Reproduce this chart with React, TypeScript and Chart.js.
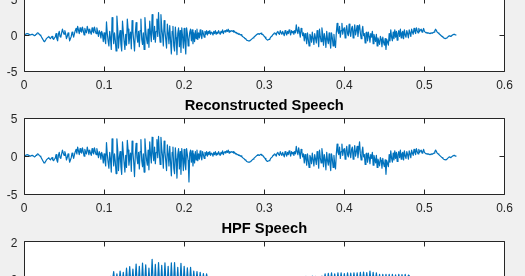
import React, { useEffect, useRef } from 'react';
import { Chart, registerables } from 'chart.js';

Chart.register(...registerables);

// ---------- data ----------
const speechSampleStep = 0.001; // seconds between speech samples
const hpfSampleStep = 0.002; // seconds between HPF samples

const xTicks = [0, 0.1, 0.2, 0.3, 0.4, 0.5, 0.6];
const xTickLabels = ['0', '0.1', '0.2', '0.3', '0.4', '0.5', '0.6'];

const speechYTicks = [-5, 0, 5];
const speechYTickLabels = ['-5', '0', '5'];

const hpfYTicks = [-2, 0, 2];
const hpfYTickLabels = ['-2', '0', '2'];

const originalSpeech = [
  0, 0.05, 0.1, 0.15, 0.2, 0.15, 0.1, 0.05, 0, 0.05,
  0.1, 0.05, 0, -0.1, -0.05, 0.1, 0.2, 0.3, 0.25, 0.1,
  0, -0.1, -0.3, -0.5, -0.7, -0.9, -0.85, -0.7, -0.5, -0.4,
  -0.3, -0.2, -0.4, -0.5, -0.3, -0.2, -0.5, -0.6, -0.4, -0.3,
  0.2, -0.5, -0.8, 0.1, 0.5, -0.2, -0.3, 0.3, 0.8, 0.4,
  0.1, 0.6, 0.2, -0.5, -0.2, 0.3, -0.1, -0.8, -0.5, -0.2,
  0.4, 0.1, -0.3, 0.2, 0.6, 0.9, 0.3, 1.2, 0.7, 0.2,
  1.0, 0.5, 0.4, 1.1, 0.6, 0.0, 0.9, 0.5, 0.3, 1.2,
  0.7, 0.2, 0.8, 0.4, 0.1, 1.0, 0.5, 0.3, 1.1, 0.6,
  0.2, 1.0, 0.4, -0.2, 0.6, 0.3, -0.4, 0.5, 0.1, -0.9,
  0.3, -0.6, -1.2, 1.8, 0.2, -0.8, -1.5, 0.5, -0.4, -2.0,
  2.4, 0.6, -1.2, 0.3, -0.7, -2.2, 2.6, 0.9, -1.8, -0.2,
  0.6, -1.3, -2.2, 1.9, 0.4, -0.9, -2.0, 0.1, -1.4, 2.2,
  0.8, -1.2, -0.3, 0.4, -1.9, 2.0, 0.5, -0.8, -2.2, 0.2,
  1.7, -0.2, -1.0, 0.5, -1.6, 0.6, 2.2, -0.6, -1.3, 0.3,
  -2.0, 2.4, 0.7, -0.5, -1.2, 0.8, -1.7, 1.9, 0.2, -0.9,
  2.8, 0.4, -0.6, 1.2, -1.0, 0.5, 2.2, -0.2, 3.1, 0.4,
  -1.0, 2.8, 1.0, 0.0, -1.5, 2.0, 0.6, -0.6, -1.8, 1.5,
  0.3, -1.2, 1.3, -0.8, -2.6, 0.5, 1.2, -1.5, -2.2, 1.1,
  -0.4, -2.7, 0.2, 1.0, -1.6, 0.6, -2.4, 1.0, -0.2, -1.8,
  0.9, -1.0, -2.6, 1.0, 0.2, -1.5, -0.6, 0.4, 0.8, -0.8,
  0.7, -1.2, 0.3, -0.9, 0.6, -0.5, 0.8, -0.6, 0.3, -0.4,
  0.7, 0.0, -0.5, 0.6, 0.2, -0.3, 0.5, 0.1, 0.6, 0.0,
  0.5, 0.2, 0.6, 0.1, 0.4, 0.3, 0.0, 0.5, 0.2, 0.6,
  0.1, 0.4, 0.2, 0.6, 0.3, 0.1, 0.5, 0.3, 0.7, 0.2,
  0.5, 0.6, 0.4, 0.7, 0.5, 0.8, 0.4, 0.6, 0.5, 0.6,
  0.5, 0.6, 0.4, 0.5, 0.3, 0.35, 0.2, 0.25, 0.1, 0.15,
  0.0, 0.05, -0.1, -0.2, -0.3, -0.35, -0.5, -0.55, -0.7, -0.75,
  -0.8, -0.8, -0.75, -0.7, -0.6, -0.5, -0.4, -0.3, -0.2, -0.1,
  0.0, 0.1, 0.2, 0.15, 0.1, 0.2, 0.25, 0.1, 0.05, 0.0,
  -0.2, -0.3, -0.5, -0.6, -0.7, -0.65, -0.6, -0.5, -0.3, -0.2,
  -0.1, 0.1, 0.2, 0.3, 0.2, 0.0, 0.4, 0.5, 0.2, 0.1,
  0.6, 0.3, 0.1, 0.5, 0.2, -0.1, 0.6, 0.3, 0.0, 0.5,
  0.2, 0.7, 0.4, 0.0, 0.6, 0.3, 0.5, 0.1, 0.6, 0.3,
  1.4, 0.6, 0.2, 1.1, 0.4, -0.3, 0.9, 0.6, -0.1, 0.3,
  -0.8, 0.2, -0.4, -1.2, 0.3, -0.6, -1.5, 0.1, -0.2, -1.0,
  0.4, -0.5, -1.3, 0.2, -0.4, -1.1, 0.6, -0.3, -1.6, 0.8,
  -0.2, -0.9, 1.0, 0.1, -1.4, 0.2, -0.5, -1.7, 0.5, -0.6,
  -1.2, 0.3, -0.9, -1.8, 0.3, -0.4, -1.5, 0.1, -1.0, -1.7,
  0.3, 1.6, 0.5, 0.2, 1.2, -0.3, 0.6, 1.6, 0.1, 0.8,
  1.0, -0.4, 0.7, 1.3, 0.2, -0.1, 1.5, 0.4, -0.2, 0.9,
  1.2, -0.4, 0.5, 1.4, 0.0, 0.6, 1.3, -0.2, 0.8, 1.4,
  0.3, -0.5, 0.5, 1.2, -0.1, 0.2, -1.1, 0.3, 0.4, -0.8,
  0.4, -0.2, -1.0, 0.2, -0.3, 0.5, -1.2, 0.1, -0.4, -0.9,
  0.1, -1.5, -0.4, -0.8, -1.3, -0.2, -0.6, -1.6, -0.3, -1.0,
  -1.4, -0.5, -2.0, -0.6, -1.0, -1.4, 0.2, -0.8, 0.7, -0.3,
  -0.8, 0.4, -0.5, 0.7, -0.3, 0.5, -0.7, 0.2, 0.6, -0.2,
  0.8, -0.4, 0.3, 0.5, -0.5, 0.7, 0.0, -0.3, 0.6, 0.2,
  -0.4, 0.7, 0.3, -0.2, 0.8, 0.4, 0.1, 0.9, 0.5, 0.2,
  1.0, 0.6, 0.3, 0.9, 0.5, 0.7, 0.8, 0.4, 0.6, 0.9,
  0.5, 0.4, 0.3, 0.35, 0.25, 0.3, 0.2, 0.25, 0.2, 0.3,
  0.25, 0.35, 0.4, 0.6, 0.8, 0.6, 0.4, 0.3, 0.2, 0.1,
  0.0, -0.1, -0.2, -0.3, -0.4, -0.45, -0.5, -0.45, -0.4, -0.3,
  -0.2, -0.1, -0.15, -0.2, -0.1, 0.0, 0.05, 0.1, 0.05, 0.0,
  0.0,
];

const reconstructedSpeech = [
  0, 0.05, 0.1, 0.15, 0.2, 0.15, 0.1, 0.05, 0, 0.05,
  0.1, 0.05, 0, -0.1, -0.05, 0.1, 0.2, 0.3, 0.25, 0.1,
  0, -0.1, -0.3, -0.5, -0.7, -0.9, -0.85, -0.7, -0.5, -0.4,
  -0.3, -0.2, -0.4, -0.5, -0.3, -0.2, -0.5, -0.6, -0.4, -0.3,
  0.2, -0.5, -0.8, 0.1, 0.5, -0.2, -0.3, 0.3, 0.8, 0.4,
  0.1, 0.6, 0.2, -0.5, -0.2, 0.3, -0.1, -0.8, -0.5, -0.2,
  0.4, 0.1, -0.3, 0.2, 0.6, 0.9, 0.3, 1.2, 0.7, 0.2,
  1.0, 0.5, 0.4, 1.1, 0.6, 0.0, 0.9, 0.5, 0.3, 1.2,
  0.7, 0.2, 0.8, 0.4, 0.1, 1.0, 0.5, 0.3, 1.1, 0.6,
  0.2, 1.0, 0.4, -0.2, 0.6, 0.3, -0.4, 0.5, 0.1, -0.9,
  0.3, -0.6, -1.3, 1.8, 0.2, -0.8, -1.6, 0.5, -0.4, -2.1,
  2.3, 0.6, -1.3, 0.3, -0.7, -2.3, 2.3, 0.9, -1.9, -0.2,
  0.6, -1.4, -2.4, 1.9, 0.4, -0.9, -2.1, 0.1, -1.5, 2.1,
  0.8, -1.2, -0.3, 0.4, -2.0, 2.0, 0.5, -0.8, -2.7, 0.2,
  1.7, -0.2, -1.0, 0.5, -1.7, 0.6, 2.2, -0.6, -1.4, 0.3,
  -2.1, 2.3, 0.7, -0.5, -1.2, 0.8, -1.8, 1.9, 0.2, -0.9,
  2.5, 0.4, -0.6, 1.2, -1.0, 0.5, 2.2, -0.2, 2.6, 0.4,
  -1.1, 2.5, 1.0, 0.0, -1.6, 2.0, 0.6, -0.6, -1.9, 1.5,
  0.3, -1.3, 1.3, -0.8, -2.6, 0.5, 1.2, -1.6, -2.3, 1.1,
  -0.4, -2.9, 0.2, 1.0, -1.7, 0.6, -2.4, 1.0, -0.2, -1.9,
  0.9, -1.0, -1.8, 1.0, 0.2, -0.6, -3.4, 0.4, 0.8, -0.8,
  0.7, -1.3, 0.3, -0.9, 0.6, -0.5, 0.8, -0.6, 0.3, -0.4,
  0.7, 0.0, -0.5, 0.6, 0.2, -0.3, 0.5, 0.1, 0.6, 0.0,
  0.5, 0.2, 0.6, 0.1, 0.4, 0.3, 0.0, 0.5, 0.2, 0.6,
  0.1, 0.4, 0.2, 0.6, 0.3, 0.1, 0.5, 0.3, 0.7, 0.2,
  0.5, 0.6, 0.4, 0.7, 0.5, 0.8, 0.4, 0.6, 0.5, 0.6,
  0.5, 0.6, 0.4, 0.5, 0.3, 0.35, 0.2, 0.25, 0.1, 0.15,
  0.0, 0.05, -0.1, -0.2, -0.3, -0.35, -0.5, -0.55, -0.7, -0.75,
  -0.8, -0.8, -0.75, -0.7, -0.6, -0.5, -0.4, -0.3, -0.2, -0.1,
  0.0, 0.1, 0.2, 0.15, 0.1, 0.2, 0.25, 0.1, 0.05, 0.0,
  -0.2, -0.3, -0.5, -0.6, -0.7, -0.65, -0.6, -0.5, -0.3, -0.2,
  -0.1, 0.1, 0.2, 0.3, 0.2, 0.0, 0.4, 0.5, 0.2, 0.1,
  0.6, 0.3, 0.1, 0.5, 0.2, -0.1, 0.6, 0.3, 0.0, 0.5,
  0.2, 0.7, 0.4, 0.0, 0.6, 0.3, 0.5, 0.1, 0.6, 0.3,
  1.3, 0.6, 0.2, 1.1, 0.4, -0.3, 0.9, 0.6, -0.1, 0.3,
  -0.9, 0.2, -0.4, -1.2, 0.3, -0.6, -1.5, 0.1, -0.2, -1.0,
  0.4, -0.5, -1.3, 0.2, -0.4, -1.1, 0.6, -0.3, -1.6, 0.8,
  -0.2, -0.9, 1.0, 0.1, -1.4, 0.2, -0.5, -1.8, 0.5, -0.6,
  -1.2, 0.3, -0.9, -1.9, 0.3, -0.4, -1.5, 0.1, -1.0, -1.7,
  0.3, 1.6, 0.5, 0.2, 1.2, -0.3, 0.6, 1.6, 0.1, 0.8,
  1.0, -0.4, 0.7, 1.3, 0.2, -0.1, 1.5, 0.4, -0.2, 0.9,
  1.2, -0.4, 0.5, 1.4, 0.0, 0.6, 1.3, -0.2, 0.8, 1.9,
  0.3, -0.5, 0.5, 1.2, -0.1, 0.2, -1.1, 0.3, 0.4, -0.8,
  0.4, -0.2, -1.0, 0.2, -0.3, 0.5, -1.2, 0.1, -0.4, -0.9,
  0.1, -1.5, -0.4, -0.8, -1.3, -0.2, -0.6, -1.6, -0.3, -1.0,
  -1.4, -0.5, -2.4, -0.6, -1.0, -1.4, 0.2, -0.8, 0.7, -0.3,
  -0.8, 0.4, -0.5, 0.7, -0.3, 0.5, -0.7, 0.2, 0.6, -0.2,
  0.8, -0.4, 0.3, 0.5, -0.5, 0.7, 0.0, -0.3, 0.6, 0.2,
  -0.4, 0.7, 0.3, -0.2, 0.8, 0.4, 0.1, 0.9, 0.5, 0.2,
  1.0, 0.6, 0.3, 0.9, 0.5, 0.7, 0.8, 0.4, 0.6, 0.9,
  0.5, 0.4, 0.3, 0.35, 0.25, 0.3, 0.2, 0.25, 0.2, 0.3,
  0.25, 0.35, 0.4, 0.6, 0.8, 0.6, 0.4, 0.3, 0.2, 0.1,
  0.0, -0.1, -0.2, -0.3, -0.4, -0.45, -0.5, -0.45, -0.4, -0.3,
  -0.2, -0.1, -0.15, -0.2, -0.1, 0.0, 0.05, 0.1, 0.05, 0.0,
  0.0,
];

const hpfSpeech = [
  0.02, -0.03, 0.04, -0.02, 0.03, -0.04, 0.02, -0.03, 0.05, -0.04,
  0.03, -0.05, 0.06, -0.04, 0.05, -0.06, 0.04, -0.05, 0.07, -0.06,
  0.08, -0.07, 0.09, -0.1, 0.08, -0.09, 0.1, -0.08, 0.11, -0.1,
  0.1, -0.12, 0.12, -0.1, 0.13, -0.12, 0.1, -0.13, 0.12, -0.11,
  0.14, -0.12, 0.13, -0.15, 0.12, -0.14, 0.15, -0.13, 0.14, -0.16,
  0.15, -0.17, 0.16, -0.18, 0.17, -0.2,
  0.42, -0.5, 0.3, -0.45, 0.45, -0.4, 0.38, -0.55, 0.6, -0.5,
  0.69, -0.6, 0.55, -0.7, 0.82, -0.75, 0.7, -0.8, 0.87, -0.72,
  0.78, -0.85, 0.6, -0.8, 1.07, -0.9, 0.8, -0.95, 0.9, -0.8,
  0.75, -0.9, 0.88, -0.85, 0.7, -0.9, 0.88, -0.8, 0.9, -0.85,
  0.65, -0.9, 0.86, -0.75, 0.7, -0.7, 0.62, -0.6, 0.65, -0.55,
  0.45, -0.5, 0.42, -0.45, 0.38, -0.4, 0.32, -0.35, 0.3,
  -0.18, 0.16, -0.14, 0.12, -0.1, 0.08, -0.06, 0.05, -0.04, 0.03,
  -0.03, 0.02, -0.02, 0.03, -0.02, 0.02, -0.03, 0.02, -0.02, 0.01,
  -0.01, 0.02, -0.01, 0.01, -0.02, 0.01, -0.01, 0.02, -0.01, 0.01,
  -0.02, 0.02, -0.01, 0.03, -0.02, 0.03, -0.04, 0.05, -0.04, 0.06,
  -0.05, 0.07, -0.06, 0.08, -0.07, 0.09, -0.08, 0.1, -0.09, 0.12,
  -0.1, 0.13, -0.12, 0.14, -0.13, 0.15, -0.12, 0.16, -0.14, 0.15,
  -0.16, 0.17, -0.15, 0.16, -0.17, 0.18, -0.16, 0.17, -0.18, 0.16,
  -0.17, 0.18, -0.19,
  0.3, -0.35, 0.33, -0.3, 0.36, -0.32, 0.3, -0.36, 0.35, -0.3,
  0.36, -0.34, 0.32, -0.35, 0.36, -0.3, 0.34, -0.36, 0.35, -0.32,
  0.36, -0.35, 0.38, -0.33, 0.4, -0.36, 0.37, -0.38, 0.45,
  -0.4, 0.38, -0.35, 0.36,
  -0.3, 0.28, -0.3, 0.27, -0.28, 0.28, -0.26, 0.27, -0.25, 0.28,
  -0.26, 0.25, -0.27, 0.28, -0.24, 0.26, -0.25, 0.27, -0.22, 0.24,
  0.15, -0.13, 0.12, -0.1, 0.09, -0.08, 0.07, -0.06, 0.06, -0.05,
  0.05, -0.04, 0.04, -0.03, 0.03, -0.03, 0.02, -0.02, 0.02, -0.02,
  0.02, -0.01, 0.01, -0.01, 0.01, -0.01, 0.01, 0, 0, 0,
];

// ---------- styling ----------
const LINE_COLOR = '#0072BD';
const AXIS_COLOR = '#262626';
const FONT_FAMILY = '"Liberation Sans", Arial, Helvetica, sans-serif';
const TICK_LEN = 5;

const matlabAxesPlugin = {
  id: 'matlabAxes',
  beforeDraw(chart: any) {
    const { ctx, chartArea } = chart;
    ctx.save();
    ctx.fillStyle = '#ffffff';
    ctx.fillRect(chartArea.left, chartArea.top, chartArea.right - chartArea.left, chartArea.bottom - chartArea.top);
    ctx.restore();
  },
  afterDraw(chart: any) {
    const { ctx, chartArea, scales } = chart;
    const L = Math.floor(chartArea.left) + 0.5;
    const R = Math.floor(chartArea.right) + 0.5;
    const T = Math.floor(chartArea.top) + 0.5;
    const B = Math.floor(chartArea.bottom) + 0.5;
    ctx.save();
    ctx.strokeStyle = AXIS_COLOR;
    ctx.lineWidth = 1;
    ctx.beginPath();
    ctx.rect(L, T, R - L, B - T);
    ctx.stroke();
    ctx.beginPath();
    for (const t of scales.x.ticks) {
      const px = Math.floor(scales.x.getPixelForValue(t.value)) + 0.5;
      ctx.moveTo(px, B);
      ctx.lineTo(px, B - TICK_LEN);
      ctx.moveTo(px, T);
      ctx.lineTo(px, T + TICK_LEN);
    }
    for (const t of scales.y.ticks) {
      const py = Math.floor(scales.y.getPixelForValue(t.value)) + 0.5;
      ctx.moveTo(L, py);
      ctx.lineTo(L + TICK_LEN, py);
      ctx.moveTo(R, py);
      ctx.lineTo(R - TICK_LEN, py);
    }
    ctx.stroke();
    ctx.restore();
  },
};

type PanelProps = {
  values: number[];
  step: number;
  yTicks: number[];
  yTickLabels: string[];
  title?: string;
  top: number;
  height: number;
  padTop: number;
  titlePadTop?: number;
  titlePadBottom?: number;
};

function Panel(props: PanelProps) {
  const ref = useRef<HTMLCanvasElement | null>(null);
  useEffect(() => {
    if (!ref.current) return;
    const { values, step, yTicks, yTickLabels, title, height, padTop, titlePadTop, titlePadBottom } = props;
    const points = values.map((v, i) => ({ x: i * step, y: v }));
    const plotHeight = 75.7;
    const titleHeight = title ? 14.7 * 1.2 + (titlePadTop || 0) + (titlePadBottom || 0) : 0;
    const xAxisHeight = height - padTop - titleHeight - plotHeight;
    const chart = new Chart(ref.current, {
      type: 'line',
      data: {
        datasets: [
          {
            data: points,
            borderColor: LINE_COLOR,
            borderWidth: 1.2,
            borderJoinStyle: 'round',
            pointRadius: 0,
            fill: false,
            tension: 0,
          },
        ],
      },
      options: {
        responsive: false,
        maintainAspectRatio: false,
        animation: false,
        devicePixelRatio: 1,
        layout: { padding: { top: padTop, left: 0, right: 20.5, bottom: 0 } },
        plugins: {
          legend: { display: false },
          tooltip: { enabled: false },
          title: {
            display: !!title,
            text: title || '',
            fullSize: false,
            color: '#000000',
            font: { family: FONT_FAMILY, size: 14.7, weight: 'bold', lineHeight: 1.2 },
            padding: { top: titlePadTop || 0, bottom: titlePadBottom || 0 },
          },
        },
        scales: {
          x: {
            type: 'linear',
            min: xTicks[0],
            max: xTicks[xTicks.length - 1],
            afterBuildTicks: (s: any) => {
              s.ticks = xTicks.map((v) => ({ value: v }));
            },
            afterFit: (s: any) => {
              s.height = xAxisHeight;
            },
            grid: { display: false, drawTicks: false },
            border: { display: false },
            ticks: {
              color: AXIS_COLOR,
              font: { family: FONT_FAMILY, size: 12 },
              padding: 7.5,
              maxRotation: 0,
              autoSkip: false,
              callback: (_v: any, i: number) => xTickLabels[i],
            },
          },
          y: {
            type: 'linear',
            min: yTicks[0],
            max: yTicks[yTicks.length - 1],
            afterBuildTicks: (s: any) => {
              s.ticks = yTicks.map((v) => ({ value: v }));
            },
            afterFit: (s: any) => {
              s.width = 24;
            },
            grid: { display: false, drawTicks: false },
            border: { display: false },
            ticks: {
              color: AXIS_COLOR,
              font: { family: FONT_FAMILY, size: 12 },
              padding: 6.5,
              labelOffset: 1.5,
              autoSkip: false,
              callback: (_v: any, i: number) => yTickLabels[i],
            },
          },
        },
      } as any,
      plugins: [matlabAxesPlugin],
    });
    return () => chart.destroy();
  }, []);
  return (
    <canvas
      ref={ref}
      width={525}
      height={props.height}
      style={{ position: 'absolute', left: 0, top: props.top, width: 525, height: props.height, display: 'block' }}
    />
  );
}

export default function App() {
  return (
    <div
      style={{
        position: 'fixed',
        left: 0,
        top: 0,
        width: 525,
        height: 276,
        overflow: 'hidden',
        background: '#f0f0f0',
      }}
    >
      <Panel
        values={originalSpeech}
        step={speechSampleStep}
        yTicks={speechYTicks}
        yTickLabels={speechYTickLabels}
        top={-15}
        height={111}
        padTop={10.6}
      />
      <Panel
        values={reconstructedSpeech}
        step={speechSampleStep}
        yTicks={speechYTicks}
        yTickLabels={speechYTickLabels}
        title="Reconstructed Speech"
        top={90}
        height={128}
        padTop={0}
        titlePadTop={6.68}
        titlePadBottom={3.98}
      />
      <Panel
        values={hpfSpeech}
        step={hpfSampleStep}
        yTicks={hpfYTicks}
        yTickLabels={hpfYTickLabels}
        title="HPF Speech"
        top={214}
        height={128}
        padTop={0}
        titlePadTop={6.18}
        titlePadBottom={3.88}
      />
    </div>
  );
}
